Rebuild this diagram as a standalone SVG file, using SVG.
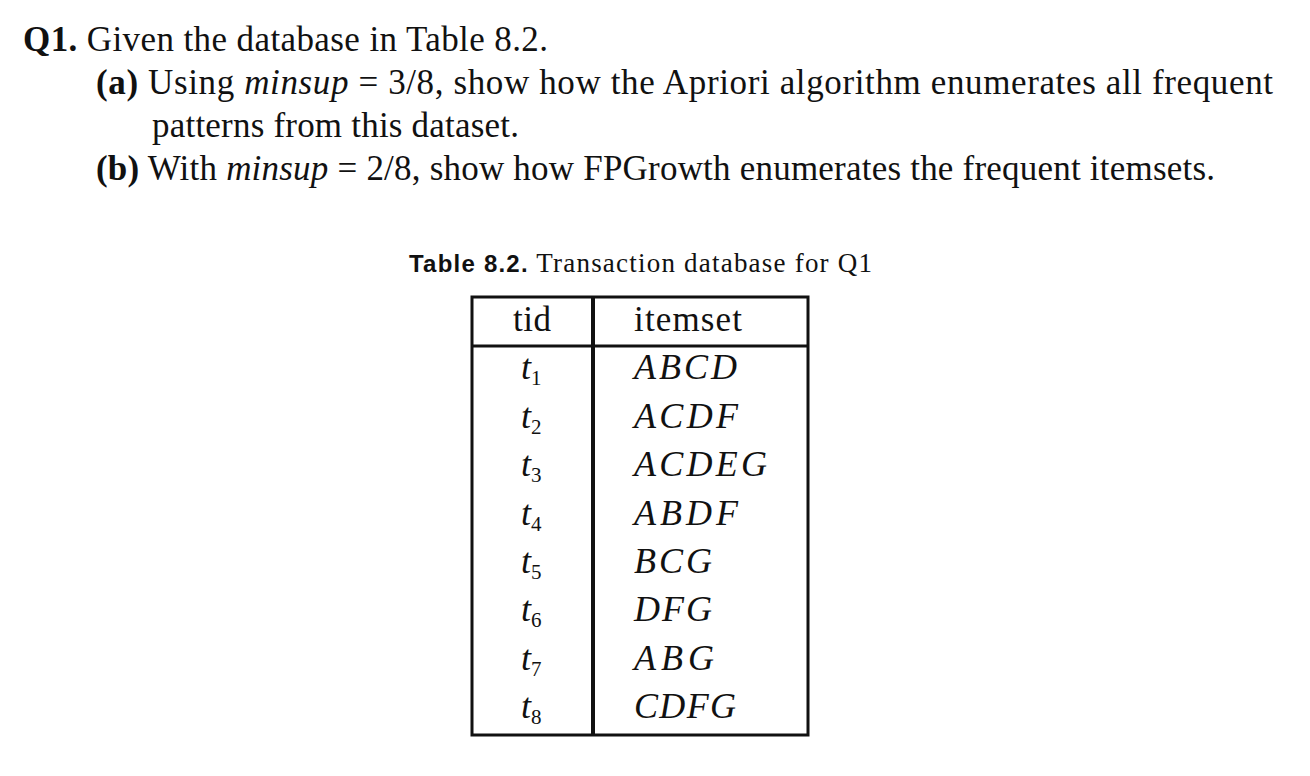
<svg xmlns="http://www.w3.org/2000/svg" width="1310" height="776" viewBox="0 0 1310 776">
<style>
text{font-family:"Liberation Serif","Times New Roman",serif;fill:#111}
.q{font-size:35px}
.c{font-size:27px}
.t{font-size:35px}
.r{font-size:36px;font-style:italic}
.s{font-size:21px}
line,rect{stroke:#111;stroke-width:3;fill:none}
</style>
<rect width="1310" height="776" fill="#fff" style="stroke:none"/>
<text class="q" x="23" y="51" textLength="525" lengthAdjust="spacing"><tspan font-weight="bold">Q1.</tspan> Given the database in Table 8.2.</text>
<text class="q" x="96" y="94" textLength="1177" lengthAdjust="spacing"><tspan font-weight="bold">(a)</tspan>  Using <tspan font-style="italic">minsup</tspan> = 3/8, show how the Apriori algorithm enumerates all frequent</text>
<text class="q" x="152" y="137" textLength="367" lengthAdjust="spacing">patterns from this dataset.</text>
<text class="q" x="96" y="180" textLength="1119" lengthAdjust="spacing"><tspan font-weight="bold">(b)</tspan>  With <tspan font-style="italic">minsup</tspan> = 2/8, show how FPGrowth enumerates the frequent itemsets.</text>
<text class="c" x="409" y="272" textLength="463" lengthAdjust="spacing"><tspan font-family="Liberation Sans Narrow,Liberation Sans,sans-serif" font-weight="bold" font-size="24">Table 8.2.</tspan> Transaction database for Q1</text>
<g id="table">
<rect x="472" y="297" width="336" height="438"/>
<line x1="593" y1="297" x2="593" y2="735" style="stroke-width:4"/>
<line x1="472" y1="346" x2="808" y2="346"/>
<text class="t" x="513" y="331" textLength="38">tid</text>
<text class="t" x="634" y="331" textLength="108">itemset</text>
<g>
<text class="r" x="521" y="379">t<tspan class="s" dy="6" font-style="normal">1</tspan></text>
<text class="r" x="521" y="428">t<tspan class="s" dy="6" font-style="normal">2</tspan></text>
<text class="r" x="521" y="476">t<tspan class="s" dy="6" font-style="normal">3</tspan></text>
<text class="r" x="521" y="525">t<tspan class="s" dy="6" font-style="normal">4</tspan></text>
<text class="r" x="521" y="573">t<tspan class="s" dy="6" font-style="normal">5</tspan></text>
<text class="r" x="521" y="621">t<tspan class="s" dy="6" font-style="normal">6</tspan></text>
<text class="r" x="521" y="670">t<tspan class="s" dy="6" font-style="normal">7</tspan></text>
<text class="r" x="521" y="718">t<tspan class="s" dy="6" font-style="normal">8</tspan></text>
<text class="r" x="634" y="379" textLength="103">ABCD</text>
<text class="r" x="634" y="428" textLength="104">ACDF</text>
<text class="r" x="634" y="476" textLength="133">ACDEG</text>
<text class="r" x="634" y="525" textLength="104">ABDF</text>
<text class="r" x="634" y="573" textLength="78">BCG</text>
<text class="r" x="634" y="621" textLength="78">DFG</text>
<text class="r" x="634" y="670" textLength="80">ABG</text>
<text class="r" x="634" y="718" textLength="102">CDFG</text>
</g>
</g>
</svg>
